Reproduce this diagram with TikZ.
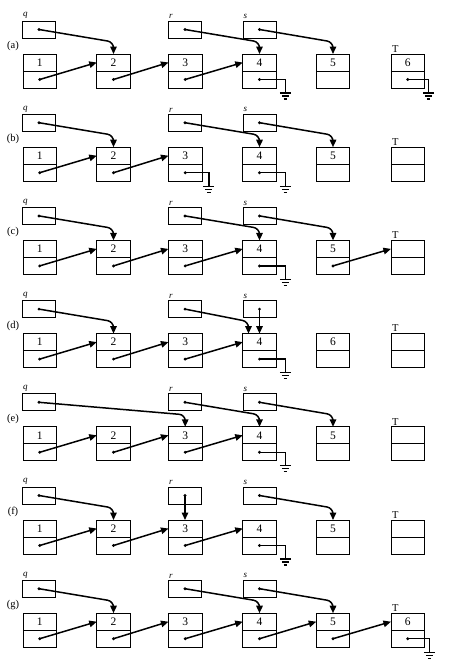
\documentclass[tikz,border=0pt]{standalone}
\usepackage{fontspec}
\setmainfont{Liberation Serif}
\usetikzlibrary{calc,arrows.meta}

\tikzset{
  cellbox/.style={draw, line width=0.8pt, minimum width=33.5pt, minimum height=34pt,
    inner sep=0pt, outer sep=0pt},
  divider/.style={line width=0.8pt},
  ptrbox/.style={draw, line width=0.8pt, minimum width=33pt, minimum height=17pt, inner sep=0pt, outer sep=0pt},
  num/.style={font=\fontsize{11.5}{13}\selectfont, inner sep=0pt},
  lnk/.style={line width=1.5pt, -{Triangle[length=7.5pt,width=6.5pt]}},
  ptr/.style={lnk, rounded corners=6pt},
  gline/.style={line width=1.5pt},
  gbar/.style={line width=1.1pt},
  vlabel/.style={font=\fontsize{9}{10}\selectfont\itshape, anchor=south west, inner sep=0pt},
  plabel/.style={font=\fontsize{10.5}{12}\selectfont, inner sep=0pt},
  tlabel/.style={font=\fontsize{10.5}{12}\selectfont, anchor=south west, inner sep=0pt},
}

% cell: name, x centre, top y, number
\newcommand\mkcell[4]{%
  \node[cellbox] (#1) at (#2,#3+17) {};
  \draw[divider] (#1.west) -- (#1.east);
  \node[num] (#1t) at ($(#1.north)!0.25!(#1.south)$) {#4};
  \coordinate (#1d) at ($(#1.north)!0.75!(#1.south)$);
  \coordinate (#1i) at ($(#1.north west)!0.25!(#1.south west)$);
}
% pointer box: name, x centre, top y of cells, label
\newcommand\mkptr[4]{%
  \node[ptrbox] (#1) at (#2,#3-24.5) {};
  \node[vlabel] (#1l) at ($(#1.north west)+(0.5,-2)$) {#4};
}
% link from cell data field to next cell
\newcommand\lnkto[2]{%
  \draw[lnk] (#1d) -- (#2i);
  \fill (#1d) circle (1.6pt);
}
% pointer from box to cell top, with x shift
\newcommand\ptrto[3]{%
  \draw[ptr] (#1.center) -- ($(#2.north)+(#3,-12)$) -- ($(#2.north)+(#3,0)$);
  \fill (#1.center) circle (1.6pt);
}
% vertical pointer
\newcommand\ptrdown[2]{%
  \draw[lnk] (#1.center) -- (#1.center |- #2.north);
  \fill (#1.center) circle (1.6pt);
}
% ground: cell, x offset beyond right edge
\newcommand\gnd[2]{%
  \coordinate (#1g) at ($(#1.south east)+(#2,5)$);
  \draw[gline] (#1d) -| (#1g);
  \draw[gbar] ($(#1g)+(-5.5,0)$) -- ++(11,0)
              ($(#1g)+(-3.5,3)$) -- ++(7,0)
              ($(#1g)+(-1.7,6)$) -- ++(3.4,0);
  \fill (#1d) circle (1.6pt);
}

\def\ca{39.7}\def\cb{113.5}\def\cc{185.2}\def\cd{259.5}\def\ce{333}\def\cf{407.7}
\def\pq{39}\def\pr{185}\def\ps{259.5}

\begin{document}
\begin{tikzpicture}[x=1pt,y=-1pt]
\useasboundingbox (0,0) rectangle (450,665);

% ---------- (a)
\def\N{54}
\node[plabel] (la) at (13,\N-8) {(a)};
\mkptr{qa}{\pq}{\N}{q}\mkptr{ra}{\pr}{\N}{r}\mkptr{sa}{\ps}{\N}{s}
\mkcell{a1}{\ca}{\N}{1}\mkcell{a2}{\cb}{\N}{2}\mkcell{a3}{\cc}{\N}{3}
\mkcell{a4}{\cd}{\N}{4}\mkcell{a5}{\ce}{\N}{5}\mkcell{a6}{\cf}{\N}{6}
\node[tlabel] (Ta) at ($(a6.north west)+(1,-1.5)$) {T};
\lnkto{a1}{a2}\lnkto{a2}{a3}\lnkto{a3}{a4}
\gnd{a4}{9}\gnd{a6}{4}
\ptrto{qa}{a2}{0}\ptrto{ra}{a4}{0}\ptrto{sa}{a5}{0}

% ---------- (b)
\def\N{147.2}
\node[plabel] (lb) at (13,\N-8) {(b)};
\mkptr{qb}{\pq}{\N}{q}\mkptr{rb}{\pr}{\N}{r}\mkptr{sb}{\ps}{\N}{s}
\mkcell{b1}{\ca}{\N}{1}\mkcell{b2}{\cb}{\N}{2}\mkcell{b3}{\cc}{\N}{3}
\mkcell{b4}{\cd}{\N}{4}\mkcell{b5}{\ce}{\N}{5}\mkcell{b6}{\cf}{\N}{}
\node[tlabel] (Tb) at ($(b6.north west)+(1,-1.5)$) {T};
\lnkto{b1}{b2}\lnkto{b2}{b3}
\gnd{b3}{7}\gnd{b4}{9}
\ptrto{qb}{b2}{0}\ptrto{rb}{b4}{0}\ptrto{sb}{b5}{0}

% ---------- (c)
\def\N{240.4}
\node[plabel] (lc) at (13,\N-8) {(c)};
\mkptr{qc}{\pq}{\N}{q}\mkptr{rc}{\pr}{\N}{r}\mkptr{sc}{\ps}{\N}{s}
\mkcell{c1}{\ca}{\N}{1}\mkcell{c2}{\cb}{\N}{2}\mkcell{c3}{\cc}{\N}{3}
\mkcell{c4}{\cd}{\N}{4}\mkcell{c5}{\ce}{\N}{5}\mkcell{c6}{\cf}{\N}{}
\node[tlabel] (Tc) at ($(c6.north west)+(1,-1.5)$) {T};
\lnkto{c1}{c2}\lnkto{c2}{c3}\lnkto{c3}{c4}\lnkto{c5}{c6}
\gnd{c4}{9}
\ptrto{qc}{c2}{0}\ptrto{rc}{c4}{0}\ptrto{sc}{c5}{0}

% ---------- (d)
\def\N{333.6}
\node[plabel] (ld) at (13,\N-8) {(d)};
\mkptr{qd}{\pq}{\N}{q}\mkptr{rd}{\pr}{\N}{r}\mkptr{sd}{\ps}{\N}{s}
\mkcell{d1}{\ca}{\N}{1}\mkcell{d2}{\cb}{\N}{2}\mkcell{d3}{\cc}{\N}{3}
\mkcell{d4}{\cd}{\N}{4}\mkcell{d5}{\ce}{\N}{6}\mkcell{d6}{\cf}{\N}{}
\node[tlabel] (Td) at ($(d6.north west)+(1,-1.5)$) {T};
\lnkto{d1}{d2}\lnkto{d2}{d3}\lnkto{d3}{d4}
\gnd{d4}{9}
\ptrto{qd}{d2}{0}\ptrto{rd}{d4}{-11}\ptrdown{sd}{d4}

% ---------- (e)
\def\N{426.8}
\node[plabel] (le) at (13,\N-8) {(e)};
\mkptr{qe}{\pq}{\N}{q}\mkptr{re}{\pr}{\N}{r}\mkptr{se}{\ps}{\N}{s}
\mkcell{e1}{\ca}{\N}{1}\mkcell{e2}{\cb}{\N}{2}\mkcell{e3}{\cc}{\N}{3}
\mkcell{e4}{\cd}{\N}{4}\mkcell{e5}{\ce}{\N}{5}\mkcell{e6}{\cf}{\N}{}
\node[tlabel] (Te) at ($(e6.north west)+(1,-1.5)$) {T};
\lnkto{e1}{e2}\lnkto{e2}{e3}\lnkto{e3}{e4}
\gnd{e4}{9}
\ptrto{qe}{e3}{0}\ptrto{re}{e4}{0}\ptrto{se}{e5}{0}

% ---------- (f)
\def\N{520}
\node[plabel] (lf) at (13,\N-8) {(f)};
\mkptr{qf}{\pq}{\N}{q}\mkptr{rf}{\pr}{\N}{r}\mkptr{sf}{\ps}{\N}{s}
\mkcell{f1}{\ca}{\N}{1}\mkcell{f2}{\cb}{\N}{2}\mkcell{f3}{\cc}{\N}{3}
\mkcell{f4}{\cd}{\N}{4}\mkcell{f5}{\ce}{\N}{5}\mkcell{f6}{\cf}{\N}{}
\node[tlabel] (Tf) at ($(f6.north west)+(1,-1.5)$) {T};
\lnkto{f1}{f2}\lnkto{f2}{f3}\lnkto{f3}{f4}
\gnd{f4}{9}
\ptrto{qf}{f2}{0}\ptrdown{rf}{f3}\ptrto{sf}{f5}{0}

% ---------- (g)
\def\N{613.2}
\node[plabel] (lg) at (13,\N-8) {(g)};
\mkptr{qg}{\pq}{\N}{q}\mkptr{rg}{\pr}{\N}{r}\mkptr{sg}{\ps}{\N}{s}
\mkcell{g1}{\ca}{\N}{1}\mkcell{g2}{\cb}{\N}{2}\mkcell{g3}{\cc}{\N}{3}
\mkcell{g4}{\cd}{\N}{4}\mkcell{g5}{\ce}{\N}{5}\mkcell{g6}{\cf}{\N}{6}
\node[tlabel] (Tg) at ($(g6.north west)+(1,-1.5)$) {T};
\lnkto{g1}{g2}\lnkto{g2}{g3}\lnkto{g3}{g4}\lnkto{g4}{g5}\lnkto{g5}{g6}
\gnd{g6}{5}
\ptrto{qg}{g2}{0}\ptrto{rg}{g4}{0}\ptrto{sg}{g5}{0}
\end{tikzpicture}
\end{document}
